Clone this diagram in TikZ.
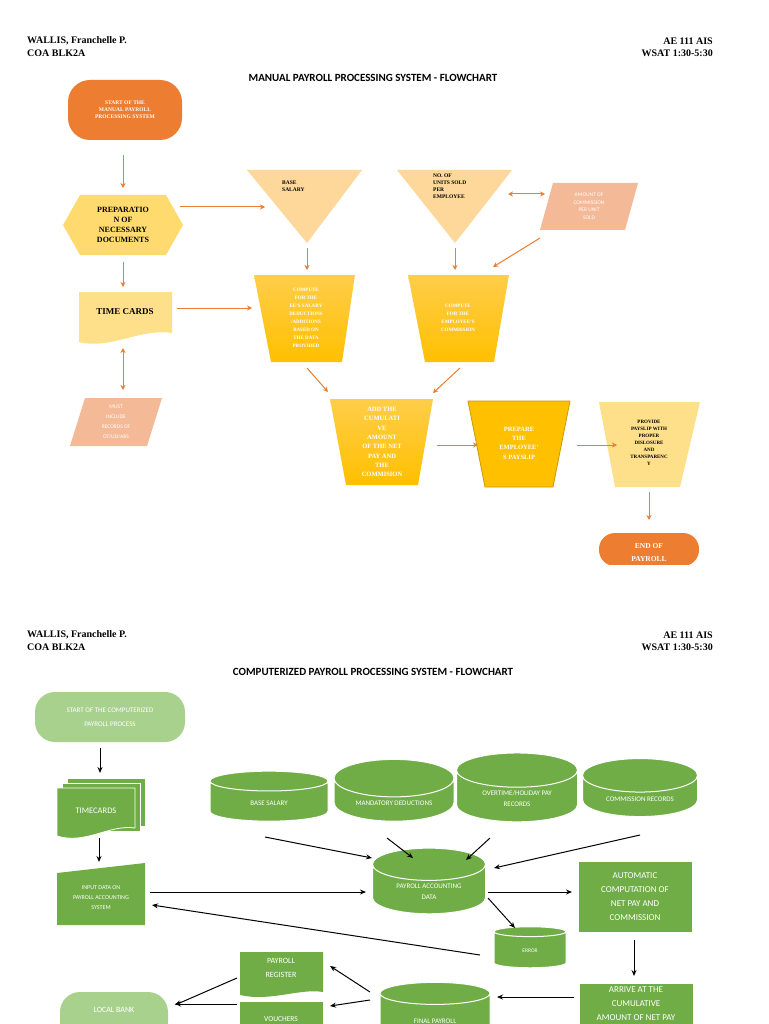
\documentclass[tikz,border=0pt]{standalone}
\usepackage{fontspec}
\setmainfont{Liberation Serif}
\newfontfamily\calf{Carlito}
\usetikzlibrary{arrows.meta,shapes.geometric}
\definecolor{org}{HTML}{ED7D31}
\definecolor{tri}{HTML}{FDD89A}
\definecolor{sal}{HTML}{F4B996}
\definecolor{gold}{HTML}{FFC000}
\definecolor{goldl}{HTML}{FFCD4A}
\definecolor{pale}{HTML}{FFE08A}
\definecolor{grn}{HTML}{70AD47}
\definecolor{lgrn}{HTML}{A9D18E}
\tikzset{
 oarr/.style={draw=org,line width=1pt,-{Stealth[length=5pt,width=5pt]}},
 oarr2/.style={draw=org,line width=1pt,{Stealth[length=5pt,width=5pt]}-{Stealth[length=5pt,width=5pt]}},
 karr/.style={draw=black,line width=1pt,-{Stealth[length=6pt,width=5pt]}},
 wt/.style={text=white,font=\calf\fontsize{5.5}{8}\selectfont,align=center,inner sep=0},
 bt/.style={text=black,font=\bfseries\fontsize{5.5}{7}\selectfont,align=center,inner sep=0},
 gt/.style={text=white,font=\calf\fontsize{7}{14}\selectfont,align=center,inner sep=0},
 hd/.style={font=\bfseries\fontsize{10}{12}\selectfont,inner sep=0},
 ttl/.style={font=\calf\bfseries\fontsize{11}{13}\selectfont,inner sep=0},
 cyl/.style={cylinder,shape border rotate=90,aspect=0.45,draw=white,line width=1pt,fill=grn,text=white,font=\calf\fontsize{7}{11}\selectfont,align=center}
}
\begin{document}
\begin{tikzpicture}[x=1pt,y=-1pt]
\clip (0,0) rectangle (768,1024);
\fill[white] (0,0) rectangle (768,1024);
% ---------- header 1
\node[hd,anchor=west] (h1) at (27,41) {WALLIS, Franchelle P.};
\node[hd,anchor=west] (h2) at (27,53) {COA BLK2A};
\node[hd,anchor=east] (h3) at (713,41) {AE 111 AIS};
\node[hd,anchor=east] (h4) at (713,53) {WSAT 1:30-5:30};
\node[ttl] (t1) at (373,78) {MANUAL PAYROLL PROCESSING SYSTEM - FLOWCHART};
% start
\fill[org,rounded corners=22pt] (68,80) rectangle (182,140);
\node[wt,font=\bfseries\fontsize{5.5}{7}\selectfont] (s1) at (125,110) {START OF THE\\MANUAL PAYROLL\\PROCESSING SYSTEM};
% hexagon
\fill[pale!80!gold] (63,225) -- (80,195) -- (166,195) -- (183,225) -- (166,255) -- (80,255) -- cycle;
\node[bt,font=\bfseries\fontsize{8}{10}\selectfont] (prep) at (123,225) {PREPARATIO\\N OF\\NECESSARY\\DOCUMENTS};
% triangles
\fill[tri] (247,170) -- (362,170) -- (307,243) -- cycle;
\node[bt,anchor=north west,align=left] (bs) at (282,181) {BASE\\SALARY};
\coordinate (bsb) at (307,248);
\fill[tri] (397,170) -- (512,170) -- (455,243) -- cycle;
\node[bt,anchor=north west,align=left] (nu) at (433,174) {NO. OF\\UNITS SOLD\\PER\\EMPLOYEE};
\coordinate (nub) at (455,248);
% amount parallelogram
\fill[sal] (553,183) -- (638,183) -- (625,230) -- (540,230) -- cycle;
\node[wt,font=\calf\fontsize{5.5}{7.5}\selectfont] (amt) at (589,206) {AMOUNT OF\\COMMISSION\\PER UNIT\\SOLD};
% time cards
\fill[pale] (79,292) -- (172,292) -- (172,333) .. controls (140,328) and (110,350) .. (79,342) -- cycle;
\node[bt,font=\bfseries\fontsize{9}{10}\selectfont] (tc) at (125,312) {TIME CARDS};
% compute trapezoids
\shade[top color=goldl,bottom color=gold] (254,275) -- (355,275) -- (342,362) -- (271,362) -- cycle;
\node[wt,font=\bfseries\fontsize{5}{8}\selectfont] (c1) at (306,318) {COMPUTE\\FOR THE\\EE'S SALARY\\DEDUCTIONS\\/ADDITIONS\\BASED ON\\THE DATA\\PROVIDED};
\shade[top color=goldl,bottom color=gold] (408,275) -- (509,275) -- (494,362) -- (425,362) -- cycle;
\node[wt,font=\bfseries\fontsize{5}{8}\selectfont] (c2) at (458,318) {COMPUTE\\FOR THE\\EMPLOYEE'S\\COMMISSION};
% must include
\fill[sal] (85,398) -- (162,398) -- (147,446) -- (70,446) -- cycle;
\node[wt,font=\calf\fontsize{5.5}{10}\selectfont] (must) at (116,422) {MUST\\INCLUDE\\RECORDS OF\\OT/UD/ABS};
% add
\shade[top color=goldl,bottom color=gold] (330,399) -- (433,399) -- (418,485) -- (346,485) -- cycle;
\node[wt,font=\bfseries\fontsize{6.5}{9.3}\selectfont] (add) at (382,442) {ADD THE\\CUMULATI\\VE\\AMOUNT\\OF THE NET\\PAY AND\\THE\\COMMISION};
% prepare
\filldraw[fill=gold,draw=gold!80!black,line width=0.8pt] (468,401) -- (570,401) -- (553,487) -- (485,487) -- cycle;
\node[wt,font=\bfseries\fontsize{6.5}{9.3}\selectfont] (prp) at (519,443) {PREPARE\\THE\\EMPLOYEE'\\S PAYSLIP};
% provide
\fill[pale] (599,402) -- (700,402) -- (680,487) -- (615,487) -- cycle;
\node[bt,font=\bfseries\fontsize{5}{7}\selectfont] (prv) at (649,443) {PROVIDE\\PAYSLIP WITH\\PROPER\\DISLOSURE\\AND\\TRANSPARENC\\Y};
% end
\begin{scope}
\clip (0,0) rectangle (768,564);
\fill[org,rounded corners=16pt] (599,533) rectangle (699,566);
\node[wt,font=\bfseries\fontsize{7.5}{13}\selectfont] (end) at (649,553) {END OF\\PAYROLL};
\end{scope}
% arrows manual
\coordinate (a1) at (123,155); \coordinate (a2) at (123,188);
\draw[oarr] (a1) -- (a2);
\coordinate (a3) at (180,207); \coordinate (a4) at (265,207);
\draw[oarr] (a3) -- (a4);
\coordinate (a5) at (508,194); \coordinate (a6) at (545,194);
\draw[oarr2] (a5) -- (a6);
\coordinate (a7) at (123,262); \coordinate (a8) at (123,287);
\draw[oarr] (a7) -- (a8);
\coordinate (a9) at (177,308); \coordinate (a10) at (252,308);
\draw[oarr] (a9) -- (a10);
\coordinate (a11) at (307,270); \draw[oarr] (bsb) -- (a11);
\coordinate (a12) at (455,270); \draw[oarr] (nub) -- (a12);
\coordinate (a13) at (540,238); \coordinate (a14) at (493,267);
\draw[oarr] (a13) -- (a14);
\coordinate (a15) at (123,348); \coordinate (a16) at (123,390);
\draw[oarr2] (a15) -- (a16);
\coordinate (a17) at (307,368); \coordinate (a18) at (328,392);
\draw[oarr] (a17) -- (a18);
\coordinate (a19) at (460,368); \coordinate (a20) at (433,393);
\draw[oarr] (a19) -- (a20);
\coordinate (a21) at (437,445); \coordinate (a22) at (478,445);
\draw[oarr] (a21) -- (a22);
\coordinate (a23) at (577,445); \coordinate (a24) at (617,445);
\draw[oarr] (a23) -- (a24);
\coordinate (a25) at (649,492); \coordinate (a26) at (649,520);
\draw[oarr] (a25) -- (a26);
% ---------- header 2
\node[hd,anchor=west] (h5) at (27,635) {WALLIS, Franchelle P.};
\node[hd,anchor=west] (h6) at (27,647) {COA BLK2A};
\node[hd,anchor=east] (h7) at (713,635) {AE 111 AIS};
\node[hd,anchor=east] (h8) at (713,647) {WSAT 1:30-5:30};
\node[ttl] (t2) at (373,672) {COMPUTERIZED PAYROLL PROCESSING SYSTEM - FLOWCHART};
% start 2
\fill[lgrn,rounded corners=20pt] (35,692) rectangle (185,742);
\node[gt] (s2) at (110,717) {START OF THE COMPUTERIZED\\PAYROLL PROCESS};
% timecards multi
\filldraw[fill=grn,draw=white,line width=0.8pt] (67,778) rectangle (145,826);
\filldraw[fill=grn,draw=white,line width=0.8pt] (62,783) rectangle (140,831);
\filldraw[fill=grn,draw=white,line width=0.8pt] (57,788) -- (135,788) -- (135,828) .. controls (110,824) and (85,845) .. (57,836) -- cycle;
\node[gt,font=\calf\fontsize{8.5}{10}\selectfont] (tcs) at (96,811) {TIMECARDS};
% input
\fill[grn] (57,873) -- (145,863) -- (145,925) -- (57,925) -- cycle;
\node[gt,font=\calf\fontsize{6}{10}\selectfont] (inp) at (101,898) {INPUT DATA ON\\PAYROLL ACCOUNTING\\SYSTEM};
% cylinders
\node[cyl,minimum width=118,minimum height=50] (cb) at (269,803) {BASE SALARY};
\node[cyl,minimum width=120,minimum height=50] (cm) at (394,803) {MANDATORY DEDUCTIONS};
\node[cyl,minimum width=121,minimum height=54] (co) at (517,799) {OVERTIME/HOLIDAY PAY\\RECORDS};
\node[cyl,minimum width=115,minimum height=58] (cc) at (640,799) {COMMISSION RECORDS};
\node[cyl,minimum width=113,minimum height=60] (pad) at (429,892) {PAYROLL ACCOUNTING\\DATA};
\node[cyl,minimum width=72,minimum height=41,font=\calf\fontsize{5.5}{7}\selectfont] (err) at (530,951) {ERROR};
\node[cyl,minimum width=110,minimum height=62] (fp) at (435,1021) {FINAL PAYROLL};
% rects
\fill[grn] (579,862) rectangle (692,932);
\node[gt,font=\calf\fontsize{9}{14}\selectfont] (auto) at (635,897) {AUTOMATIC\\COMPUTATION OF\\NET PAY AND\\COMMISSION};
\fill[grn] (580,984) rectangle (693,1040);
\node[gt,font=\calf\fontsize{9}{14}\selectfont,anchor=north] (arr) at (636,987) {ARRIVE AT THE\\CUMULATIVE\\AMOUNT OF NET PAY};
\fill[grn] (240,952) -- (323,952) -- (323,992) .. controls (300,988) and (270,1002) .. (240,995) -- cycle;
\node[gt,font=\calf\fontsize{8}{14}\selectfont] (reg) at (281,968) {PAYROLL\\REGISTER};
\fill[grn] (240,1002) rectangle (323,1040);
\node[gt,font=\calf\fontsize{7.5}{10}\selectfont] (vou) at (281,1019) {VOUCHERS};
\fill[lgrn,rounded corners=20pt] (60,992) rectangle (168,1042);
\node[gt,font=\calf\fontsize{8}{10}\selectfont] (bank) at (114,1010) {LOCAL BANK};
% arrows computerized
\coordinate (b1) at (100,748); \coordinate (b2) at (100,773); \draw[karr] (b1) -- (b2);
\coordinate (b3) at (99,838); \coordinate (b4) at (99,862); \draw[karr] (b3) -- (b4);
\coordinate (b5) at (265,837); \coordinate (b6) at (372,858); \draw[karr] (b5) -- (b6);
\coordinate (b7) at (387,838); \coordinate (b8) at (413,858); \draw[karr] (b7) -- (b8);
\coordinate (b9) at (490,838); \coordinate (b10) at (466,860); \draw[karr] (b9) -- (b10);
\coordinate (b11) at (640,835); \coordinate (b12) at (494,868); \draw[karr] (b11) -- (b12);
\coordinate (b13) at (150,892); \coordinate (b14) at (366,892); \draw[karr] (b13) -- (b14);
\coordinate (b15) at (488,892); \coordinate (b16) at (572,892); \draw[karr] (b15) -- (b16);
\coordinate (b17) at (488,898); \coordinate (b18) at (515,928); \draw[karr] (b17) -- (b18);
\coordinate (b19) at (480,955); \coordinate (b20) at (152,905); \draw[karr] (b19) -- (b20);
\coordinate (b21) at (634,940); \coordinate (b22) at (634,976); \draw[karr] (b21) -- (b22);
\coordinate (b23) at (574,997); \coordinate (b24) at (497,997); \draw[karr] (b23) -- (b24);
\coordinate (b25) at (370,992); \coordinate (b26) at (330,966); \draw[karr] (b25) -- (b26);
\coordinate (b27) at (370,1000); \coordinate (b28) at (330,1006); \draw[karr] (b27) -- (b28);
\coordinate (b29) at (237,978); \coordinate (b30) at (175,1005); \draw[karr] (b29) -- (b30);
\coordinate (b31) at (237,1004); \coordinate (b32) at (175,1004); \draw[karr] (b31) -- (b32);
\end{tikzpicture}
\end{document}
